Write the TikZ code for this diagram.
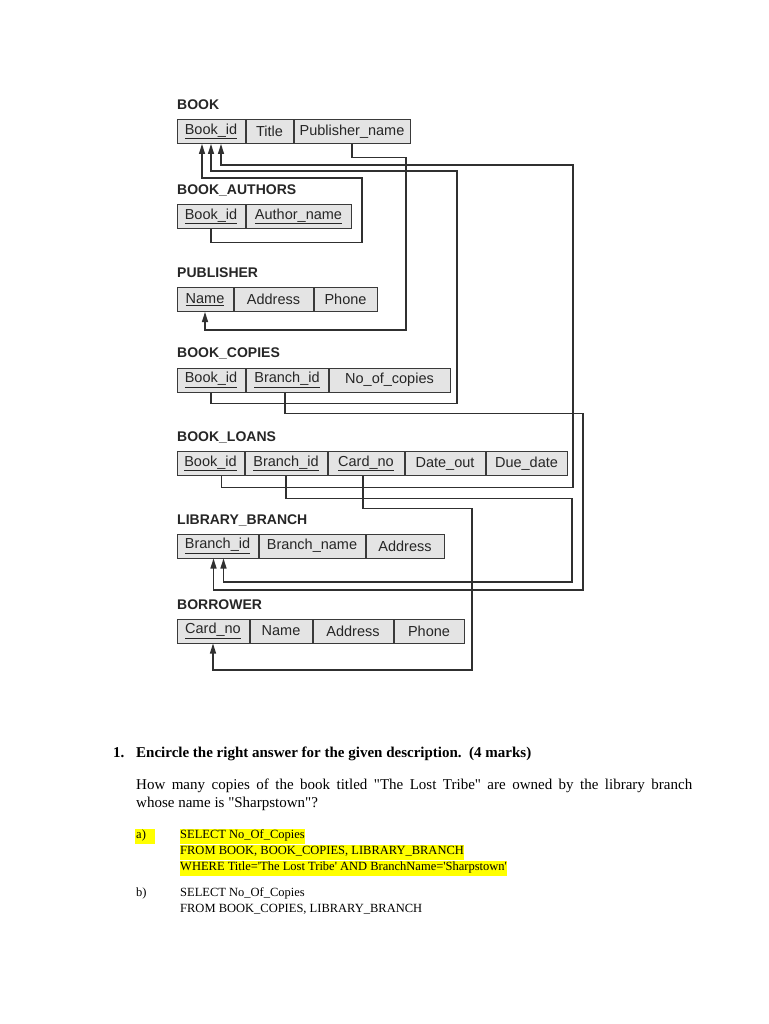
\documentclass[tikz,border=0pt]{standalone}
\usepackage{fontspec}
\usepackage{tikz}
\usetikzlibrary{positioning,arrows.meta}
\setmainfont{Liberation Serif}
\newfontfamily\dgfont{Liberation Sans}
\newfontfamily\docfont{Liberation Serif}
\definecolor{cellfill}{HTML}{E4E4E4}
\definecolor{cellline}{HTML}{3A3A3A}
\definecolor{cellText}{HTML}{262626}
\definecolor{linecol}{HTML}{303030}
\definecolor{hlyellow}{HTML}{FFFF00}
\tikzset{
  cell/.style = {draw=cellline, fill=cellfill, minimum height=24pt, inner sep=1pt,
    line width=1pt, text=cellText, font=\dgfont\fontsize{14.5}{16}\selectfont},
  tname/.style = {anchor=west, inner sep=0pt, text=cellText,
    font=\dgfont\bfseries\fontsize{14}{16}\selectfont},
  fk/.style = {draw=linecol, line width=1.3pt, -{Triangle[length=10pt,width=6pt]}},
  body/.style = {anchor=base west, inner sep=0pt, font=\docfont\fontsize{15}{18}\selectfont},
  sql/.style = {anchor=base west, inner sep=0pt, font=\docfont\fontsize{12.5}{15}\selectfont},
  hl/.style = {sql, fill=hlyellow, text height=9.5pt, text depth=5.5pt}
}

\begin{document}
\begin{tikzpicture}[x=1pt, y=-1pt]
        \fill[white] (0,0) rectangle (768,1024);
        \useasboundingbox (0,0) rectangle (768,1024);

        % tables
        \node [tname] (t-book) at (177,105) {BOOK};
        \node [cell, minimum width=68pt] (b-bookid) at (211,131.5) {\underline{Book\_id}};
        \node [cell, minimum width=47pt, right=0pt of b-bookid] (b-title) {Title};
        \node [cell, minimum width=116pt, right=0pt of b-title] (b-pub) {Publisher\_name};

        \node [tname] (t-authors) at (177,190) {BOOK\_AUTHORS};
        \node [cell, minimum width=68pt] (ba-bookid) at (211,216.5) {\underline{Book\_id}};
        \node [cell, minimum width=105pt, right=0pt of ba-bookid] (ba-author) {\underline{Author\_name}};

        \node [tname] (t-publisher) at (177,273) {PUBLISHER};
        \node [cell, minimum width=56pt] (p-name) at (205,299.5) {\underline{Name}};
        \node [cell, minimum width=79pt, right=0pt of p-name] (p-addr) {Address};
        \node [cell, minimum width=63pt, right=0pt of p-addr] (p-phone) {Phone};

        \node [tname] (t-copies) at (177,353) {BOOK\_COPIES};
        \node [cell, minimum width=68pt] (bc-bookid) at (211,380) {\underline{Book\_id}};
        \node [cell, minimum width=82pt, right=0pt of bc-bookid] (bc-branch) {\underline{Branch\_id}};
        \node [cell, minimum width=121pt, right=0pt of bc-branch] (bc-copies) {No\_of\_copies};

        \node [tname] (t-loans) at (177,437) {BOOK\_LOANS};
        \node [cell, minimum width=67pt] (bl-bookid) at (210.5,463.5) {\underline{Book\_id}};
        \node [cell, minimum width=82pt, right=0pt of bl-bookid] (bl-branch) {\underline{Branch\_id}};
        \node [cell, minimum width=76pt, right=0pt of bl-branch] (bl-card) {\underline{Card\_no}};
        \node [cell, minimum width=80pt, right=0pt of bl-card] (bl-out) {Date\_out};
        \node [cell, minimum width=81pt, right=0pt of bl-out] (bl-due) {Due\_date};

        \node [tname] (t-branch) at (177,520) {LIBRARY\_BRANCH};
        \node [cell, minimum width=81pt] (lb-branch) at (217.5,546) {\underline{Branch\_id}};
        \node [cell, minimum width=106pt, right=0pt of lb-branch] (lb-name) {Branch\_name};
        \node [cell, minimum width=78pt, right=0pt of lb-name] (lb-addr) {Address};

        \node [tname] (t-borrower) at (177,605) {BORROWER};
        \node [cell, minimum width=72pt] (br-card) at (213,631) {\underline{Card\_no}};
        \node [cell, minimum width=62pt, right=0pt of br-card] (br-name) {Name};
        \node [cell, minimum width=80pt, right=0pt of br-name] (br-addr) {Address};
        \node [cell, minimum width=70pt, right=0pt of br-addr] (br-phone) {Phone};

        % foreign keys
        \draw [fk] (ba-bookid.south) -- ++(0,13.5) -| (362,178) -| ([xshift=-9pt]b-bookid.south);
        \draw [fk] (bc-bookid.south) -- ++(0,11) -| (457,171) -| (b-bookid.south);
        \draw [fk] ([xshift=11pt]bl-bookid.south) -- ++(0,11.5) -| (573,165) -| ([xshift=10pt]b-bookid.south);
        \draw [fk] (b-pub.south) -- ++(0,13.5) -| (406,330) -| (p-name.south);
        \draw [fk] ([xshift=-2pt]bc-branch.south) -- ++(0,21) -| (583,590) -| ([xshift=-4pt]lb-branch.south);
        \draw [fk] (bl-branch.south) -- ++(0,22.5) -| (572,582) -| ([xshift=6pt]lb-branch.south);
        \draw [fk] ([xshift=-3pt]bl-card.south) -- ++(0,32.5) -| (472,670) -| (br-card.south);

        % question
        \node [body, font=\docfont\bfseries\fontsize{15}{18}\selectfont] (q-num) at (113,757) {1.};
        \node [body, font=\docfont\bfseries\fontsize{15}{18}\selectfont] (q-head) at (136,757)
            {Encircle the right answer for the given description.\ \ (4 marks)};
        \node [body] (q-line1) at (136,789)
            {\makebox[556pt][s]{How many copies of the book titled "The Lost Tribe" are owned by the library branch}};
        \node [body] (q-line2) at (136,807) {whose name is "Sharpstown"?};

        \node [hl] (a-label) at (135,838) {\makebox[20pt][l]{\hspace{1pt}a)}};
        \node [hl] (a-sql1) at (180,838) {SELECT No\_Of\_Copies};
        \node [hl] (a-sql2) at (180,854) {FROM BOOK, BOOK\_COPIES, LIBRARY\_BRANCH};
        \node [hl] (a-sql3) at (180,870) {WHERE Title='The Lost Tribe' AND BranchName='Sharpstown'};

        \node [sql] (b-label) at (136,896) {b)};
        \node [sql] (b-sql1) at (180,896) {SELECT No\_Of\_Copies};
        \node [sql] (b-sql2) at (180,912) {FROM BOOK\_COPIES, LIBRARY\_BRANCH};
\end{tikzpicture}
\end{document}
